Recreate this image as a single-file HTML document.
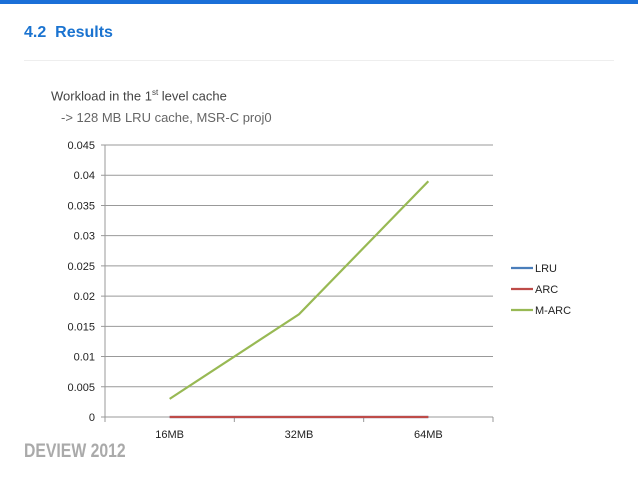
<!DOCTYPE html>
<html><head><meta charset="utf-8"><style>
body{margin:0;width:638px;height:478px;background:#fff;position:relative;overflow:hidden;font-family:"Liberation Sans","Noto Sans CJK KR",sans-serif}
.a{position:absolute}
</style></head><body>
<div class="a" style="left:0;top:0;width:638px;height:4px;background:#1a6fd8"></div>
<div class="a" style="left:24px;top:24px;font-size:16px;font-weight:bold;color:#1a73d0">4.2&nbsp; Results</div>
<div class="a" style="left:24px;top:60px;width:590px;height:1px;background:#eee"></div>
<div class="a" style="left:51px;top:88px;font-size:13px;color:#444">Workload in the 1<sup style="font-size:8px">st</sup> level cache</div>
<div class="a" style="left:61px;top:110px;font-size:13px;color:#666">-&gt; 128 MB LRU cache, MSR-C proj0</div>
<div class="a" style="left:24px;top:441px;font-size:19px;font-weight:bold;color:#aaa;transform:scaleX(0.83);transform-origin:left">DEVIEW 2012</div>
<svg id="chart" class="a" style="left:0;top:0" width="638" height="478"></svg>
<script>
const categories=["16MB","32MB","64MB"];
const lru=[0,0,0];
const arc=[0,0,0];
const marc=[0.003,0.017,0.039];
const yTicks=[0,0.005,0.01,0.015,0.02,0.025,0.03,0.035,0.04,0.045];
const seriesNames=["LRU","ARC","M-ARC"];
const colors=["#4a7ebb","#be4b48","#98b954"];
const svg=document.getElementById('chart');
const NS="http://www.w3.org/2000/svg";
const x0=105,x1=493,yTop=145,yBot=417,yMax=0.045;
const band=(x1-x0)/categories.length;
const xs=i=>x0+band*(i+0.5);
const ys=v=>yBot-(v/yMax)*(yBot-yTop);
function mk(t,a){const e=document.createElementNS(NS,t);for(const k in a)e.setAttribute(k,a[k]);svg.appendChild(e);return e;}
yTicks.forEach(v=>{
 const g=mk('line',{x1:x0-4,x2:x1,y1:ys(v),y2:ys(v),stroke:'#999','stroke-width':1});
 
 
 const t=mk('text',{x:x0-10,y:ys(v)+4,'text-anchor':'end','font-size':11,fill:'#222','font-family':'Liberation Sans, sans-serif'});
 t.textContent=String(v);
 
 
});
const ax=mk('line',{x1:x0,x2:x0,y1:yTop,y2:yBot,stroke:'#999'});


for(let i=0;i<=categories.length;i++){
 const tk=mk('line',{x1:x0+band*i,x2:x0+band*i,y1:yBot,y2:yBot+5,stroke:'#999'});
 
 
}
categories.forEach((c,i)=>{
 const t=mk('text',{x:xs(i),y:yBot+21,'text-anchor':'middle','font-size':11,fill:'#222','font-family':'Liberation Sans, sans-serif'});
 t.textContent=c;
 
 
});
[lru,arc,marc].forEach((s,k)=>{
 const p=mk('polyline',{points:s.map((v,i)=>xs(i)+','+ys(v)).join(' '),fill:'none',stroke:colors[k],'stroke-width':2.2});
 
 
 const ly=268+k*21;
 const l=mk('line',{x1:511,x2:533,y1:ly,y2:ly,stroke:colors[k],'stroke-width':2.2});
 
 
 const t=mk('text',{x:535,y:ly+4,'font-size':11,fill:'#222','font-family':'Liberation Sans, sans-serif'});
 t.textContent=seriesNames[k];
 
 
});
</script>
</body></html>
